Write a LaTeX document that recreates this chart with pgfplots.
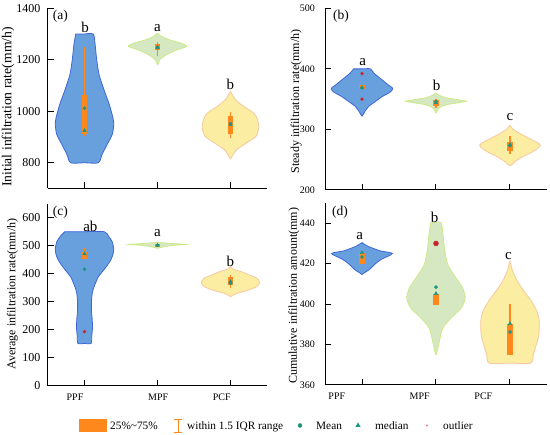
\documentclass[border=0pt]{standalone}
\usepackage{fontspec}
\setmainfont{Liberation Serif}
\usepackage{pgfplots}
\pgfplotsset{compat=1.18}
\definecolor{vblue}{RGB}{104,160,221}
\definecolor{vblueE}{RGB}{62,102,214}
\definecolor{vgreen}{RGB}{214,232,194}
\definecolor{vgreenE}{RGB}{205,234,135}
\definecolor{vyel}{RGB}{251,237,162}
\definecolor{vyelE}{RGB}{246,200,160}
\definecolor{obox}{RGB}{255,136,28}
\definecolor{mteal}{RGB}{26,150,130}
\definecolor{ored}{RGB}{200,35,45}
\tikzset{
  sig/.style={font=\fontsize{15}{17}\selectfont, inner sep=0pt},
  pl/.style={font=\fontsize{13.5}{15}\selectfont, inner sep=0pt},
  lg/.style={font=\fontsize{11.3}{13}\selectfont, inner sep=0pt, anchor=base west},
}
\pgfplotsset{
  myax/.style={scale only axis, anchor=south west, xmin=0.5, xmax=3.5,
    axis x line*=bottom, axis y line*=left,
    axis line style={line width=1pt, black},
    tick align=inside, major tick length=6pt,
    tick style={line width=1pt, black},
    xtick={1,2,3}, xticklabels={,,},
    /pgf/number format/assume math mode=true,
    /pgf/number format/1000 sep={},
    clip=false},
  leftax/.style={tick label style={font=\fontsize{12}{14}\selectfont},
    yticklabel style={xshift=-4pt},
    label style={font=\fontsize{13.7}{15}\selectfont}},
  rightax/.style={tick label style={font=\fontsize{10}{12}\selectfont},
    yticklabel style={xshift=-6.7pt},
    label style={font=\fontsize{12}{14}\selectfont}},
  botx/.style={extra x ticks={#1}, extra x tick labels={PPF,MPF,PCF},
    extra x tick style={major tick length=0pt,
      tick label style={font=\fontsize{10}{12}\selectfont, yshift=-4.5pt}}},
  vA/.style={fill=vblue, draw=vblueE, line width=0.8pt, smooth, tension=0.45},
  vB/.style={fill=vgreen, draw=vgreenE, line width=0.8pt, smooth, tension=0.45},
  vC/.style={fill=vyel, draw=vyelE, line width=0.8pt, smooth, tension=0.45},
  wk/.style={obox, line width=1.2pt},
  bx/.style={fill=obox, draw=none},
  mn/.style={only marks, mark=*, mark size=1.6pt, mteal},
  md/.style={only marks, mark=triangle*, mark size=2pt, mteal},
  ol/.style={only marks, mark=*, mark size=1.5pt, ored},
}
\begin{document}
\begin{tikzpicture}
\useasboundingbox (0pt,0pt) rectangle (550pt,435pt);
% ---------------- (a)
\begin{axis}[myax, leftax, at={(48pt,246.5pt)}, width=219pt, height=180.2pt,
  ymin=700, ymax=1400, ytick={800,1000,1200,1400},
  ylabel={Initial infiltration rate(mm/h)},
  ylabel style={at={(axis description cs:-0.183,0.452)}, anchor=center}]
\addplot[vA] coordinates {(1,1300)(1.12,1300)(1.146,1258)(1.165,1206)(1.2,1142)(1.275,1077)(1.34,1026)(1.39,974)(1.4,948)(1.38,910)(1.31,871)(1.24,832)(1.19,800)(1,800)(0.81,800)(0.76,832)(0.69,871)(0.62,910)(0.6,948)(0.61,974)(0.66,1026)(0.725,1077)(0.8,1142)(0.835,1206)(0.854,1258)(0.88,1300)} -- cycle;
\addplot[vB] coordinates {(2,1303)(2.06,1290)(2.17,1277)(2.33,1264)(2.4,1252)(2.27,1239)(2.12,1219)(2.03,1200)(2,1181)(1.97,1200)(1.88,1219)(1.73,1239)(1.6,1252)(1.67,1264)(1.83,1277)(1.94,1290)} -- cycle;
\addplot[vC] coordinates {(3,1077)(3.07,1045)(3.18,1019)(3.315,994)(3.37,968)(3.387,936)(3.35,903)(3.225,878)(3.09,852)(3.036,832)(3,816)(2.964,832)(2.91,852)(2.775,878)(2.65,903)(2.613,936)(2.63,968)(2.685,994)(2.82,1019)(2.93,1045)} -- cycle;
\addplot[wk] coordinates {(1,905)(1,1251)};
\addplot[bx] coordinates {(0.963,910)(1.037,910)(1.037,1064)(0.963,1064)} -- cycle;
\addplot[wk] coordinates {(2,1215)(2,1271)};
\addplot[bx] coordinates {(1.963,1239)(2.037,1239)(2.037,1261)(1.963,1261)} -- cycle;
\addplot[wk] coordinates {(3,897)(3,996)};
\addplot[bx] coordinates {(2.963,910)(3.037,910)(3.037,981)(2.963,981)} -- cycle;
\addplot[md] coordinates {(1,925)(2,1248)(3,948)};
\addplot[mn] coordinates {(1,1012)(2,1248)(3,952)};
\node[sig] at (axis cs:1.01,1324) {b};
\node[sig] at (axis cs:2,1324) {a};
\node[sig] at (axis cs:3,1103) {b};
\node[pl] at (rel axis cs:0.057,0.957) {(a)};
\end{axis}
% ---------------- (b)
\begin{axis}[myax, rightax, at={(325pt,245pt)}, width=222pt, height=181.7pt,
  ymin=200, ymax=500, ytick={200,300,400,500},
  ylabel={Steady infiltration rate(mm/h)},
  ylabel style={at={(axis description cs:-0.13,0.487)}, anchor=center}]
\addplot[vA] coordinates {(1,400)(1.113,400)(1.16,393)(1.27,382)(1.36,373)(1.415,368)(1.385,362)(1.27,354)(1.18,346)(1.09,338)(1.036,329)(1,322)(0.964,329)(0.91,338)(0.82,346)(0.73,354)(0.615,362)(0.585,368)(0.64,373)(0.73,382)(0.84,393)(0.887,400)} -- cycle;
\addplot[vB] coordinates {(2,360)(2.05,356)(2.15,352)(2.3,349)(2.41,346.5)(2.3,344)(2.15,341)(2.06,337)(2.02,332)(2,327)(1.98,332)(1.94,337)(1.85,341)(1.7,344)(1.59,346.5)(1.7,349)(1.85,352)(1.95,356)} -- cycle;
\addplot[vC] coordinates {(3,307)(3.045,300)(3.16,291.6)(3.29,283.4)(3.41,274)(3.32,264)(3.18,255.5)(3.07,247)(3,240)(2.93,247)(2.82,255.5)(2.68,264)(2.59,274)(2.71,283.4)(2.84,291.6)(2.955,300)} -- cycle;
\addplot[wk] coordinates {(1,366)(1,373)};
\addplot[bx] coordinates {(0.963,366)(1.037,366)(1.037,373)(0.963,373)} -- cycle;
\addplot[wk] coordinates {(2,336)(2,351)};
\addplot[bx] coordinates {(1.963,338)(2.037,338)(2.037,349)(1.963,349)} -- cycle;
\addplot[wk] coordinates {(3,259)(3,289)};
\addplot[bx] coordinates {(2.963,265)(3.037,265)(3.037,280)(2.963,280)} -- cycle;
\addplot[md] coordinates {(1,369)(2,344)(3,275)};
\addplot[mn] coordinates {(1,369)(2,346)(3,273)};
\addplot[ol] coordinates {(1,392)(1,350)};
\node[sig] at (axis cs:1.01,412) {a};
\node[sig] at (axis cs:2.01,372) {b};
\node[sig] at (axis cs:3,320) {c};
\node[pl] at (rel axis cs:0.072,0.958) {(b)};
\end{axis}
% ---------------- (c)
\begin{axis}[myax, leftax, botx={0.87,2.01,2.88}, at={(48pt,49pt)}, width=219pt, height=182pt,
  ymin=0, ymax=650, ytick={0,100,200,300,400,500,600},
  ylabel={Average infiltration rate(mm/h)},
  label style={font=\fontsize{12}{14}\selectfont},
  ylabel style={at={(axis description cs:-0.162,0.505)}, anchor=center}]
\addplot[vA] coordinates {(1,551)(1.27,551)(1.33,535)(1.38,515)(1.40,490)(1.39,470)(1.36,450)(1.31,430)(1.25,410)(1.19,390)(1.155,370)(1.125,350)(1.105,330)(1.095,300)(1.095,270)(1.105,240)(1.11,210)(1.10,180)(1.09,152)(1,152)(0.91,152)(0.90,180)(0.89,210)(0.895,240)(0.905,270)(0.905,300)(0.895,330)(0.875,350)(0.845,370)(0.81,390)(0.75,410)(0.69,430)(0.64,450)(0.61,470)(0.60,490)(0.62,515)(0.67,535)(0.73,551)} -- cycle;
\addplot[vB] coordinates {(2,513)(2.1,511)(2.25,508)(2.4,505.5)(2.25,503)(2.12,499)(2.05,495)(2,492)(1.95,495)(1.88,499)(1.75,503)(1.6,505.5)(1.75,508)(1.9,511)} -- cycle;
\addplot[vC] coordinates {(3,426)(3.04,417)(3.15,408)(3.26,396)(3.36,385)(3.40,370)(3.36,355)(3.25,343)(3.09,331)(3.03,324)(3,319)(2.97,324)(2.91,331)(2.75,343)(2.64,355)(2.6,370)(2.64,385)(2.74,396)(2.85,408)(2.96,417)} -- cycle;
\addplot[wk] coordinates {(1,452)(1,492)};
\addplot[bx] coordinates {(0.963,452)(1.037,452)(1.037,480)(0.963,480)} -- cycle;
\addplot[wk] coordinates {(2,495)(2,508)};
\addplot[bx] coordinates {(1.963,498)(2.037,498)(2.037,506)(1.963,506)} -- cycle;
\addplot[wk] coordinates {(3,350)(3,396)};
\addplot[bx] coordinates {(2.963,361)(3.037,361)(3.037,390)(2.963,390)} -- cycle;
\addplot[md] coordinates {(1,472)(2,503)(3,373)};
\addplot[mn] coordinates {(1,417)(2,503)(3,367)};
\addplot[ol] coordinates {(1,194)};
\node[sig] at (axis cs:1.08,569) {ab};
\node[sig] at (axis cs:2,545) {a};
\node[sig] at (axis cs:3,446) {b};
\node[pl] at (rel axis cs:0.057,0.953) {(c)};
\end{axis}
% ---------------- (d)
\begin{axis}[myax, rightax, botx={0.66,1.78,2.64}, at={(325pt,50pt)}, width=222pt, height=182pt,
  ymin=360, ymax=450, ytick={360,380,400,420,440},
  ylabel={Cumulative infiltration amount(mm)},
  ylabel style={at={(axis description cs:-0.14,0.49)}, anchor=center}]
\addplot[vA] coordinates {(1,430.4)(1.06,429)(1.12,428)(1.25,426.3)(1.41,425)(1.26,422.1)(1.17,419.6)(1.1,417.1)(1.02,415.2)(1,414.6)(0.98,415.2)(0.9,417.1)(0.83,419.6)(0.74,422.1)(0.59,425)(0.75,426.3)(0.88,428)(0.94,429)} -- cycle;
\addplot[vB] coordinates {(2,440.4)(2.068,440.4)(2.09,436.2)(2.113,428)(2.158,419.6)(2.27,413)(2.36,408)(2.395,403)(2.34,398)(2.2,393)(2.09,388)(2.045,381.5)(2,375)(1.955,381.5)(1.91,388)(1.8,393)(1.66,398)(1.605,403)(1.64,408)(1.73,413)(1.842,419.6)(1.887,428)(1.91,436.2)(1.932,440.4)} -- cycle;
\addplot[vC] coordinates {(3,421.3)(3.036,416.3)(3.1,411.3)(3.19,406.4)(3.29,401.4)(3.365,396.4)(3.395,391.5)(3.39,384.9)(3.355,379.9)(3.315,374.9)(3.28,370.8)(3,370.8)(2.72,370.8)(2.685,374.9)(2.645,379.9)(2.61,384.9)(2.605,391.5)(2.635,396.4)(2.71,401.4)(2.81,406.4)(2.9,411.3)(2.964,416.3)} -- cycle;
\addplot[wk] coordinates {(1,420)(1,426)};
\addplot[bx] coordinates {(0.963,420)(1.037,420)(1.037,425.4)(0.963,425.4)} -- cycle;
\addplot[wk] coordinates {(2,399.8)(2,405.2)};
\addplot[bx] coordinates {(1.963,399.8)(2.037,399.8)(2.037,405.2)(1.963,405.2)} -- cycle;
\addplot[wk] coordinates {(3,374.9)(3,400.1)};
\addplot[bx] coordinates {(2.955,374.9)(3.045,374.9)(3.045,390.3)(2.955,390.3)} -- cycle;
\addplot[md] coordinates {(1,425.4)(2,405.2)(3,390.3)};
\addplot[mn] coordinates {(1,423.3)(2,408.4)(3,386.2)};
\addplot[ol, mark size=2.5pt] coordinates {(2,430)};
\node[sig] at (axis cs:0.97,433.7) {a};
\node[sig] at (axis cs:1.98,443) {b};
\node[sig] at (axis cs:2.98,423.8) {c};
\node[pl] at (rel axis cs:0.068,0.948) {(d)};
\end{axis}
% ---------------- legend (1 unit = 1pt)
\begin{axis}[at={(0pt,0pt)}, anchor=south west, scale only axis, width=550pt, height=30pt,
  hide axis, xmin=0, xmax=550, ymin=0, ymax=30, clip=false]
\addplot[bx] coordinates {(79,2.5)(107,2.5)(107,15.5)(79,15.5)} -- cycle;
\addplot[obox, line width=1pt] coordinates {(174,2.5)(182,2.5)};
\addplot[obox, line width=1pt] coordinates {(178,2.5)(178,15.5)};
\addplot[obox, line width=1pt] coordinates {(174,15.5)(182,15.5)};
\addplot[only marks, mark=*, mark size=2pt, mteal] coordinates {(300,9.5)};
\addplot[only marks, mark=triangle*, mark size=2.6pt, mteal] coordinates {(358,9.5)};
\addplot[only marks, mark=*, mark size=0.8pt, ored!55] coordinates {(427,9.5)};
\node[lg] at (axis cs:110,5.5) {25\%\textasciitilde 75\%};
\node[lg] at (axis cs:187,5.5) {within 1.5 IQR range};
\node[lg] at (axis cs:316,5.5) {Mean};
\node[lg] at (axis cs:375,5.5) {median};
\node[lg] at (axis cs:443,5.5) {outlier};
\end{axis}
\end{tikzpicture}
\end{document}
